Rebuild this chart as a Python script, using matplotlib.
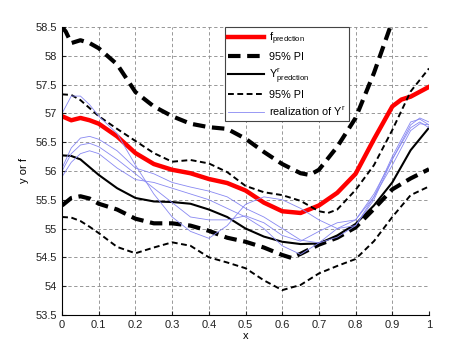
import matplotlib
matplotlib.use('Agg')
from matplotlib import pyplot as plt

plt.rcParams['font.family'] = ['Liberation Sans', 'DejaVu Sans']

# f prediction and its 95% PI (thick dashed)
x_f = [0, 0.025, 0.05, 0.075, 0.1, 0.15, 0.2, 0.25, 0.3, 0.35, 0.4, 0.45, 0.5,
       0.55, 0.6, 0.65, 0.7, 0.75, 0.8, 0.85, 0.9, 0.925, 0.95, 1.0]
f_pred = [56.95, 56.88, 56.92, 56.88, 56.82, 56.6, 56.31, 56.12, 56.02, 55.96, 55.86, 55.79, 55.66,
          55.45, 55.3, 55.27, 55.4, 55.62, 55.95, 56.55, 57.12, 57.24, 57.29, 57.46]

x_fu = [0, 0.01, 0.025, 0.05, 0.075, 0.1, 0.15, 0.2, 0.25, 0.3, 0.35, 0.4, 0.45, 0.5,
        0.55, 0.6, 0.65, 0.675, 0.7, 0.75, 0.8, 0.85, 0.9]
f_upper = [58.5, 58.42, 58.22, 58.27, 58.22, 58.13, 57.85, 57.37, 57.12, 56.95, 56.82, 56.76, 56.73, 56.56,
           56.33, 56.12, 55.96, 55.93, 56.02, 56.42, 56.92, 57.7, 58.6]

x_fl = [0, 0.025, 0.05, 0.075, 0.1, 0.15, 0.2, 0.25, 0.3, 0.35, 0.4, 0.45, 0.5,
        0.55, 0.6, 0.625, 0.65, 0.7, 0.75, 0.8, 0.85, 0.9, 0.95, 1.0]
f_lower = [55.4, 55.53, 55.56, 55.52, 55.43, 55.33, 55.17, 55.09, 55.09, 55.05, 54.96, 54.84, 54.77,
           54.67, 54.54, 54.49, 54.56, 54.72, 54.84, 55.02, 55.34, 55.68, 55.87, 56.03]

# Y^r prediction and its 95% PI (thin dashed)
x_y = [0, 0.025, 0.05, 0.1, 0.15, 0.2, 0.25, 0.3, 0.35, 0.4, 0.45, 0.5,
       0.55, 0.6, 0.65, 0.7, 0.75, 0.8, 0.85, 0.9, 0.95, 1.0]
y_pred = [56.27, 56.26, 56.2, 55.93, 55.7, 55.53, 55.47, 55.46, 55.43, 55.33, 55.2, 55.0,
          54.86, 54.77, 54.73, 54.74, 54.88, 55.08, 55.4, 55.8, 56.36, 56.75]

x_yu = [0, 0.025, 0.05, 0.1, 0.15, 0.2, 0.25, 0.3, 0.35, 0.4, 0.45, 0.5,
        0.55, 0.6, 0.65, 0.7, 0.725, 0.75, 0.8, 0.85, 0.9, 0.95, 1.0]
y_upper = [57.33, 57.32, 57.23, 56.95, 56.73, 56.52, 56.31, 56.16, 56.19, 56.13, 55.98, 55.74,
           55.63, 55.58, 55.48, 55.3, 55.27, 55.33, 55.67, 56.1, 56.71, 57.38, 57.78]

x_yl = [0, 0.025, 0.05, 0.075, 0.1, 0.15, 0.2, 0.25, 0.3, 0.35, 0.4, 0.45, 0.5,
        0.55, 0.6, 0.65, 0.7, 0.75, 0.8, 0.85, 0.9, 0.95, 1.0]
y_lower = [55.2, 55.19, 55.13, 55.03, 54.92, 54.68, 54.57, 54.67, 54.76, 54.7, 54.5, 54.41, 54.31,
           54.1, 53.93, 54.02, 54.22, 54.35, 54.47, 54.78, 55.2, 55.58, 55.73]

# realizations of Y^r
x_r = [0, 0.025, 0.05, 0.075, 0.1, 0.15, 0.2, 0.25, 0.3, 0.35, 0.4, 0.45, 0.5,
       0.55, 0.6, 0.65, 0.7, 0.75, 0.8, 0.85, 0.9, 0.95, 0.975, 1.0]
real1 = [57.0, 57.3, 57.3, 57.15, 56.95, 56.65, 56.1, 55.6, 55.2, 54.95, 54.83, 55.05, 55.42,
         55.55, 55.5, 55.35, 55.15, 55.0, 55.05, 55.5, 56.2, 56.8, 56.92, 56.85]
real2 = [56.05, 56.4, 56.57, 56.6, 56.55, 56.35, 56.05, 55.95, 55.8, 55.72, 55.65, 55.55, 55.35,
         55.2, 55.0, 54.8, 54.75, 54.85, 55.05, 55.55, 56.25, 56.85, 56.9, 56.8]
real3 = [56.0, 56.3, 56.45, 56.48, 56.42, 56.2, 55.95, 55.7, 55.45, 55.2, 55.15, 55.15, 55.22,
         55.1, 54.88, 54.78, 54.95, 55.1, 55.15, 55.55, 56.1, 56.7, 56.82, 56.8]
real4 = [55.9, 56.15, 56.3, 56.35, 56.3, 56.05, 55.85, 55.8, 55.7, 55.6, 55.5, 55.35, 55.2,
         55.0, 54.7, 54.55, 54.75, 55.0, 55.15, 55.6, 56.2, 56.75, 56.85, 56.75]

fig = plt.figure(figsize=(4.74, 3.55), dpi=100)
ax = fig.add_axes([0.131, 0.113, 0.774, 0.811])

h_f, = ax.plot(x_f, f_pred, color='red', lw=3.2, label='f$_{\\mathregular{predction}}$')
h_fu, = ax.plot(x_fu, f_upper, color='black', lw=3, linestyle=(0, (3, 1.6)), label='95% PI')
ax.plot(x_fl, f_lower, color='black', lw=3, linestyle=(0, (3, 1.6)))
h_y, = ax.plot(x_y, y_pred, color='black', lw=1.5, label='Y$^{\\mathregular{r}}_{\\mathregular{predction}}$')
h_yu, = ax.plot(x_yu, y_upper, color='black', lw=1.4, linestyle=(0, (3, 1.8)), label='95% PI')
ax.plot(x_yl, y_lower, color='black', lw=1.4, linestyle=(0, (3, 1.8)))
blue = '#8888f2'
h_r, = ax.plot(x_r, real1, color=blue, lw=0.6, label='realization of Y$^{\\mathregular{r}}$')
for r in [real2, real3, real4]:
    ax.plot(x_r, r, color=blue, lw=0.6)

ax.set_xlim(0, 1)
ax.set_ylim(53.5, 58.5)
ax.set_xticks([i / 10 for i in range(11)])
ax.set_xticklabels(['0', '0.1', '0.2', '0.3', '0.4', '0.5', '0.6', '0.7', '0.8', '0.9', '1'])
ax.set_yticks([53.5 + 0.5 * i for i in range(11)])
ax.set_yticklabels(['53.5', '54', '54.5', '55', '55.5', '56', '56.5', '57', '57.5', '58', '58.5'])
ax.tick_params(direction='in', labelsize=8, length=3, colors='#222222')
ax.grid(True, color='#888888', linestyle=(0, (4, 3)), lw=0.6)
ax.spines['top'].set_visible(False)
ax.spines['right'].set_visible(False)
ax.set_xlabel('x', fontsize=8, labelpad=1)
ax.set_ylabel('y or f', fontsize=8, labelpad=5)

leg = ax.legend(handles=[h_f, h_fu, h_y, h_yu, h_r], loc='upper left',
                bbox_to_anchor=(0.444, 1.0), fontsize=7.8, handlelength=3.3,
                fancybox=False, framealpha=1, edgecolor='#444444',
                borderpad=0.3, labelspacing=0.45, handletextpad=0.45, borderaxespad=0)
leg.get_frame().set_linewidth(0.8)

plt.savefig('out.png', dpi=100)
